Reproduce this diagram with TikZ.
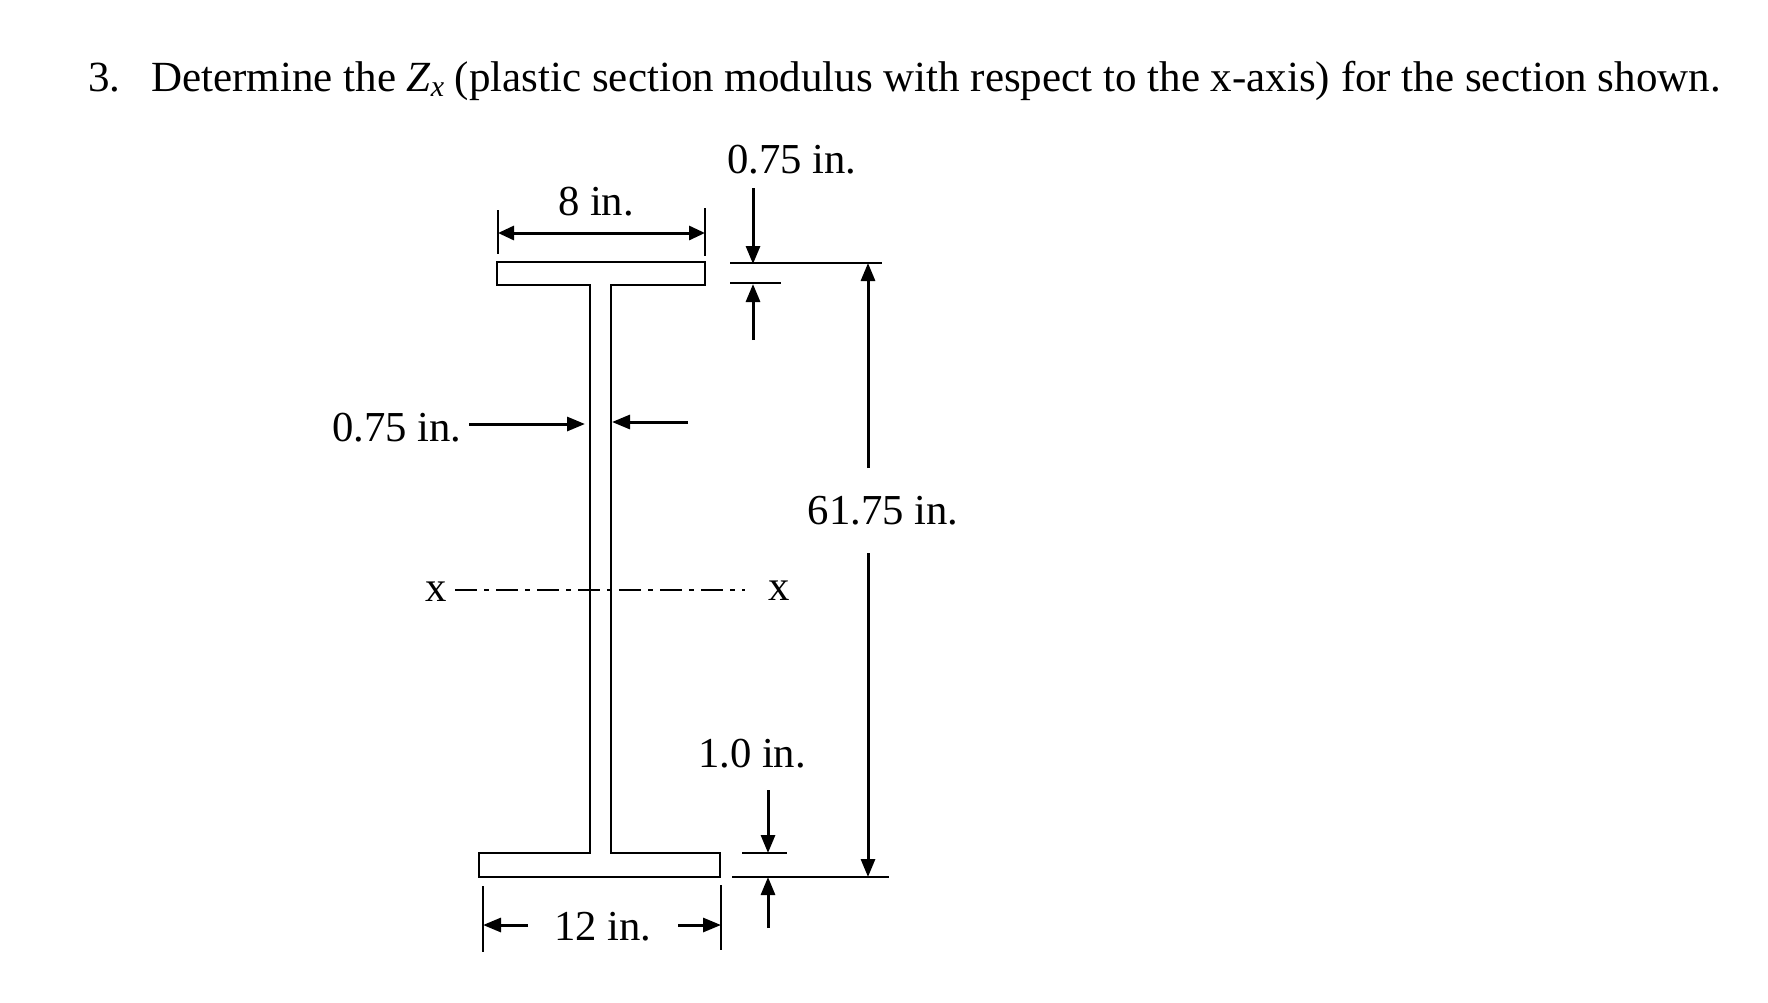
\documentclass[tikz,border=0pt]{standalone}
\usepackage{fontspec}
\setmainfont{Liberation Serif}
\usetikzlibrary{arrows.meta}
\tikzset{
  every picture/.style={x=1pt,y=-1pt},
  outline/.style={line width=2.8pt,line cap=rect,line join=miter,black},
  thin rule/.style={line width=2.6pt,black},
  dim/.style={line width=3pt,black,-{Triangle[length=18pt,width=14pt]}},
  dimboth/.style={line width=3pt,black,{Triangle[length=16pt,width=14pt]}-{Triangle[length=16pt,width=14pt]}},
  axisline/.style={line width=2.6pt,black,dash pattern=on 22pt off 7pt on 5pt off 7pt},
  lab/.style={inner sep=0pt,font=\fontsize{42.7}{48}\selectfont},
}
\begin{document}
\begin{tikzpicture}
\useasboundingbox (0,0) rectangle (1768,1002);
\fill[white] (0,0) rectangle (1768,1002);
\node[lab,anchor=base west,font=\fontsize{43}{48}\selectfont] (title) at (88,91) {3.\hspace{0.72em}Determine the \textit{Z\raisebox{-0.12em}{\fontsize{30}{30}\selectfont x}} (plastic section modulus with respect to the x-axis) for the section shown.};
% section outline
\draw[outline] (497,262) -- (705,262) -- (705,285) -- (611,285) -- (611,853) -- (720,853) -- (720,877) -- (479,877) -- (479,853) -- (590,853) -- (590,285) -- (497,285) -- cycle;
% labels
\node[lab] (l8) at (596,202) {8 in.};
\node[lab] (ltop) at (792,160) {0.75 in.};
\node[lab] (lweb) at (397,428) {0.75 in.};
\node[lab] (lh) at (883,511) {61.75 in.};
\node[lab] (xl) at (436,592) {x};
\node[lab] (xr) at (779,591) {x};
\node[lab] (lbot) at (752,754) {1.0 in.};
\node[lab] (l12) at (603,927) {12 in.};
% coordinates
\coordinate (a1) at (498,233); \coordinate (a2) at (705,233);
\coordinate (t1a) at (498,210); \coordinate (t1b) at (498,254);
\coordinate (t2a) at (705,208); \coordinate (t2b) at (705,256);
\coordinate (ta) at (753,188); \coordinate (tb) at (753,264);
\coordinate (tc) at (753,340); \coordinate (td) at (753,284);
\coordinate (r1a) at (730,263); \coordinate (r1b) at (882,263);
\coordinate (r2a) at (730,283); \coordinate (r2b) at (781,283);
\coordinate (wa) at (469,424); \coordinate (wb) at (585,424);
\coordinate (wc) at (688,422); \coordinate (wd) at (612,422);
\coordinate (va) at (868,468); \coordinate (vb) at (868,263);
\coordinate (vc) at (868,553); \coordinate (vd) at (868,877);
\coordinate (c1) at (455,590); \coordinate (c2) at (745,590);
\coordinate (ba) at (768,790); \coordinate (bb) at (768,853);
\coordinate (bc) at (768,914); \coordinate (bd) at (768,877);
\coordinate (r3a) at (742,853); \coordinate (r3b) at (787,853);
\coordinate (r4a) at (732,877); \coordinate (r4b) at (889,877);
\coordinate (k1a) at (483,886); \coordinate (k1b) at (483,952);
\coordinate (k2a) at (721,885); \coordinate (k2b) at (721,950);
\coordinate (m1) at (528,925); \coordinate (m2) at (483,925);
\coordinate (m3) at (678,925); \coordinate (m4) at (721,925);
\coordinate (bc2) at (768,928);
% extension rules
\foreach \p/\q in {t1a/t1b,t2a/t2b,r1a/r1b,r2a/r2b,r3a/r3b,r4a/r4b,k1a/k1b,k2a/k2b}
  \draw[thin rule] (\p) -- (\q);
% dimension arrows
\draw[dimboth] (a1) -- (a2);
\foreach \p/\q in {ta/tb,tc/td,wa/wb,wc/wd,va/vb,vc/vd,ba/bb,bc2/bd,m1/m2,m3/m4}
  \draw[dim] (\p) -- (\q);
% axis
\draw[axisline] (c1) -- (c2);
\end{tikzpicture}
\end{document}
